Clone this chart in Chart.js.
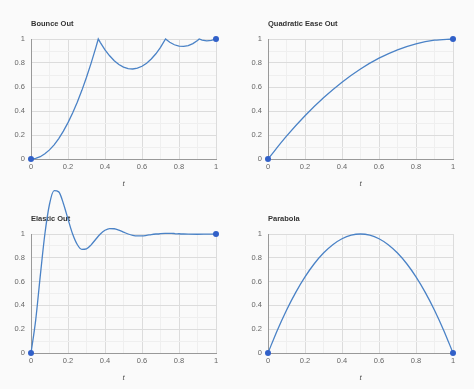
<!DOCTYPE html>
<html>
<head>
<meta charset="utf-8">
<script src="https://cdn.jsdelivr.net/npm/chart.js@4.4.1/dist/chart.umd.min.js"></script>
<style>
  html, body { margin: 0; padding: 0; background: #fafafa; }
  #grid { display: grid; grid-template-columns: 237px 237px; grid-template-rows: 195px 194px; width: 474px; height: 389px; }
  .cell { position: relative; }
  .box { position: absolute; left: 0; right: 0; }
</style>
</head>
<body>
<div id="grid">
  <div class="cell"><div class="box" style="top:0;height:195px"><canvas id="bounce"></canvas></div></div>
  <div class="cell"><div class="box" style="top:0;height:195px"><canvas id="quad"></canvas></div></div>
  <div class="cell"><div class="box" style="top:-14px;height:208px"><canvas id="elastic"></canvas></div></div>
  <div class="cell"><div class="box" style="top:0;height:194px"><canvas id="parabola"></canvas></div></div>
</div>
<script>
// values
const bounceT = [0, 0.025, 0.05, 0.075, 0.1, 0.125, 0.15, 0.175, 0.2, 0.225, 0.25, 0.275, 0.3, 0.325, 0.35, 0.3636,
  0.375, 0.4, 0.425, 0.45, 0.475, 0.5, 0.525, 0.55, 0.575, 0.6, 0.625, 0.65, 0.675, 0.7, 0.7273,
  0.75, 0.775, 0.8, 0.825, 0.85, 0.875, 0.9, 0.9091, 0.925, 0.95, 0.975, 1];
const bounceY = [0, 0.005, 0.019, 0.043, 0.076, 0.118, 0.170, 0.232, 0.303, 0.383, 0.473, 0.572, 0.681, 0.799, 0.926, 1.0,
  0.970, 0.910, 0.860, 0.819, 0.788, 0.766, 0.753, 0.750, 0.757, 0.773, 0.798, 0.833, 0.877, 0.931, 1.0,
  0.973, 0.952, 0.940, 0.938, 0.945, 0.962, 0.988, 1.0, 0.991, 0.985, 0.988, 1.0];

const quadT = [0, 0.1, 0.2, 0.3, 0.4, 0.5, 0.6, 0.7, 0.8, 0.9, 1];
const quadY = [0, 0.19, 0.36, 0.51, 0.64, 0.75, 0.84, 0.91, 0.96, 0.99, 1];

const elasticT = [0, 0.025, 0.05, 0.075, 0.1, 0.125, 0.15, 0.175, 0.2, 0.225, 0.25, 0.275, 0.3, 0.325, 0.35, 0.375,
  0.4, 0.425, 0.45, 0.475, 0.5, 0.525, 0.55, 0.575, 0.6, 0.625, 0.65, 0.675, 0.7, 0.725, 0.75, 0.775, 0.8,
  0.825, 0.85, 0.9, 0.95, 1];
const elasticY = [0, 0.272, 0.646, 1.0, 1.25, 1.364, 1.354, 1.257, 1.125, 1.0, 0.912, 0.871, 0.875, 0.909, 0.956, 1.0,
  1.031, 1.046, 1.044, 1.032, 1.016, 1.0, 0.989, 0.984, 0.984, 0.989, 0.995, 1.0, 1.004, 1.006, 1.005, 1.004, 1.002,
  1.0, 0.999, 0.998, 0.999, 1];

const parabolaT = [0, 0.05, 0.1, 0.15, 0.2, 0.25, 0.3, 0.35, 0.4, 0.45, 0.5, 0.55, 0.6, 0.65, 0.7, 0.75, 0.8, 0.85, 0.9, 0.95, 1];
const parabolaY = [0, 0.19, 0.36, 0.51, 0.64, 0.75, 0.84, 0.91, 0.96, 0.99, 1, 0.99, 0.96, 0.91, 0.84, 0.75, 0.64, 0.51, 0.36, 0.19, 0];

const LINE_COLOR = '#4a82c6';
const POINT_COLOR = '#3160c8';
const FONT = "'Liberation Sans', Arial, sans-serif";

function isMajor(v) {
    return Math.round(v * 10) % 2 === 0;
}

function tickLabel(v) {
    if (!isMajor(v)) return '';
    return String(Math.round(v * 10) / 10);
}

function gridColor(ctx) {
    if (!ctx.tick) return '#e6e6e6';
    return isMajor(ctx.tick.value) ? '#dcdcdc' : '#efefef';
}

function drawChart(id, title, tValues, yValues, opts) {
    const data = tValues.map((t, i) => ({ x: t, y: yValues[i] }));
    const last = data.length - 1;
    const ctx = document.getElementById(id).getContext('2d');
    return new Chart(ctx, {
        type: 'line',
        data: {
            datasets: [{
                data: data,
                borderColor: LINE_COLOR,
                borderWidth: 1.3,
                tension: opts.tension,
                cubicInterpolationMode: opts.mode,
                clip: false,
                pointRadius: c => (c.dataIndex === 0 || c.dataIndex === last) ? 3 : 0,
                pointBackgroundColor: POINT_COLOR,
                pointBorderColor: POINT_COLOR,
                pointBorderWidth: 0
            }]
        },
        options: {
            responsive: true,
            maintainAspectRatio: false,
            animation: false,
            layout: { padding: { left: 0, right: 21, top: opts.padTop || 0, bottom: 6 } },
            plugins: {
                legend: { display: false },
                tooltip: { enabled: false },
                title: {
                    display: true,
                    text: title,
                    align: 'start',
                    fullSize: false,
                    color: '#333',
                    font: { family: FONT, size: 7.5, weight: 'bold' },
                    padding: { top: 19, bottom: 11 }
                }
            },
            scales: {
                x: {
                    type: 'linear',
                    min: 0,
                    max: 1,
                    afterFit: s => { s.height = 30; },
                    ticks: {
                        stepSize: 0.1,
                        autoSkip: false,
                        maxRotation: 0,
                        padding: 3,
                        color: '#666',
                        font: { family: FONT, size: 7.5 },
                        callback: v => tickLabel(v)
                    },
                    grid: { color: gridColor, drawTicks: false, lineWidth: 1 },
                    border: { color: '#999', width: 1 },
                    title: {
                        display: true,
                        text: 't',
                        color: '#555',
                        font: { family: FONT, size: 8, style: 'italic' },
                        padding: { top: 5, bottom: 0 }
                    }
                },
                y: {
                    min: 0,
                    max: 1,
                    afterFit: s => { s.width = 31; },
                    ticks: {
                        stepSize: 0.1,
                        autoSkip: false,
                        padding: 6,
                        color: '#666',
                        font: { family: FONT, size: 7.5 },
                        callback: v => tickLabel(v)
                    },
                    grid: { color: gridColor, drawTicks: false, lineWidth: 1 },
                    border: { color: '#999', width: 1 }
                }
            }
        }
    });
}

drawChart('bounce', 'Bounce Out', bounceT, bounceY, { tension: 0, mode: 'default' });
drawChart('quad', 'Quadratic Ease Out', quadT, quadY, { tension: 0.4, mode: 'monotone' });
drawChart('elastic', 'Elastic Out', elasticT, elasticY, { tension: 0.4, mode: 'monotone', padTop: 14 });
drawChart('parabola', 'Parabola', parabolaT, parabolaY, { tension: 0.4, mode: 'monotone' });
</script>
</body>
</html>
